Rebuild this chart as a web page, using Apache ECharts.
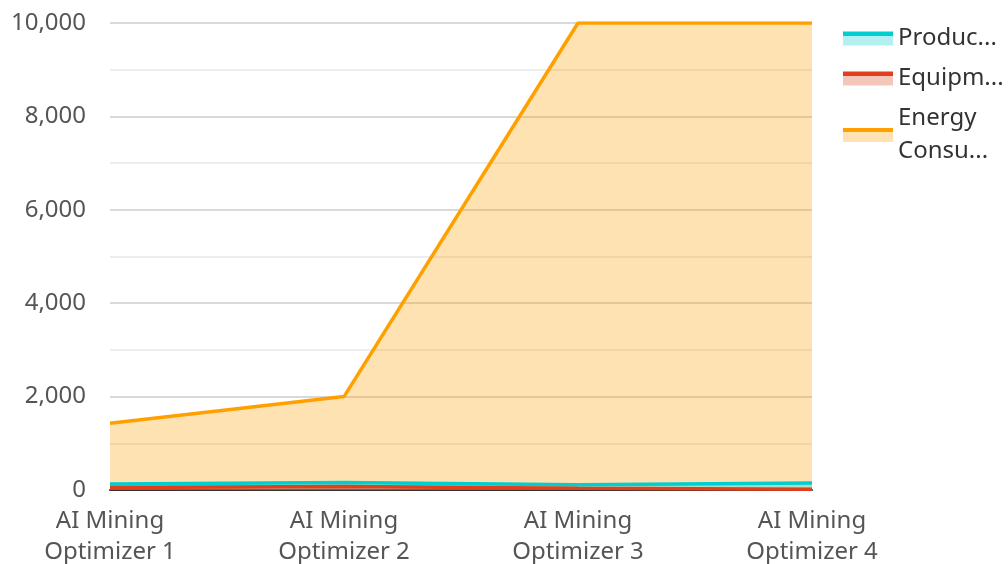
<!DOCTYPE html>
<html>
<head>
<meta charset="utf-8">
<script src="https://cdn.jsdelivr.net/npm/echarts@6/dist/echarts.min.js"></script>
<style>
  html, body { margin: 0; padding: 0; background: #fff; }
  #main { width: 1008px; height: 564px; }
</style>
</head>
<body>
<div id="main"></div>
<script>
const categories = ['AI Mining Optimizer 1', 'AI Mining Optimizer 2', 'AI Mining Optimizer 3', 'AI Mining Optimizer 4'];
const production = [130, 160, 110, 150];
const equipment = [55, 75, 40, 15];
const energy = [1430, 2000, 10000, 10000];

const font = '"Noto Sans", sans-serif';
let chart = echarts.init(document.getElementById('main'));

function areaSeries(name, data, color, z) {
  return {
    name: name,
    type: 'line',
    data: data,
    z: z,
    symbol: 'none',
    lineStyle: { color: color, width: 3.5 },
    itemStyle: { color: color },
    areaStyle: { color: color, opacity: 0.3 }
  };
}

// legend swatch: solid band on top, pale fill below
function swatch(name, color, light, w) {
  return {
    name: name,
    icon: 'rect',
    textStyle: { width: w },
    itemStyle: {
      color: new echarts.graphic.LinearGradient(0, 0, 0, 1, [
        { offset: 0, color: color },
        { offset: 0.3, color: color },
        { offset: 0.3, color: light },
        { offset: 1, color: light }
      ])
    }
  };
}

let option = {
  animation: false,
  textStyle: { fontFamily: font },
  grid: { left: 110, right: 196, top: 23, bottom: 74, outerBoundsMode: 'none' },
  legend: {
    orient: 'vertical',
    left: 838,
    top: 17,
    itemWidth: 50,
    itemHeight: 14,
    itemGap: 7,
    data: [
      swatch('Production Efficiency', '#00CED1', '#B2F0F1', 104),
      swatch('Equipment Utilization', '#E0401C', '#F6C5BA', 112),
      swatch('Energy Consumption', '#FFA000', '#FFE2B2', 106)
    ],
    formatter: function (name) {
      return name === 'Energy Consumption' ? 'Energy\nConsumption' : name;
    },
    textStyle: {
      fontSize: 24,
      color: '#333',
      width: 106,
      overflow: 'truncate',
      lineHeight: 33
    }
  },
  xAxis: {
    type: 'category',
    data: categories,
    boundaryGap: false,
    axisLine: { lineStyle: { color: '#333', width: 2 } },
    axisTick: { show: false },
    axisLabel: {
      fontSize: 24,
      color: '#555',
      lineHeight: 31,
      interval: 0,
      margin: 16,
      formatter: function (v) { return v.replace(' Optimizer', '\nOptimizer'); }
    }
  },
  yAxis: {
    type: 'value',
    min: 0,
    max: 10000,
    interval: 2000,
    axisLine: { show: false },
    axisTick: { show: false },
    axisLabel: {
      fontSize: 24,
      color: '#555',
      margin: 24,
      formatter: function (v) { return v.toLocaleString('en-US'); }
    },
    splitLine: { lineStyle: { color: '#ccc', width: 1.5 } },
    minorTick: { show: false, splitNumber: 2 },
    minorSplitLine: { show: true, lineStyle: { color: '#e8e8e8', width: 1.5 } }
  },
  series: [
    areaSeries('Production Efficiency', production, '#00CED1', 3),
    areaSeries('Equipment Utilization', equipment, '#E0401C', 4),
    areaSeries('Energy Consumption', energy, '#FFA000', 2)
  ]
};

option && chart.setOption(option);
</script>
</body>
</html>
